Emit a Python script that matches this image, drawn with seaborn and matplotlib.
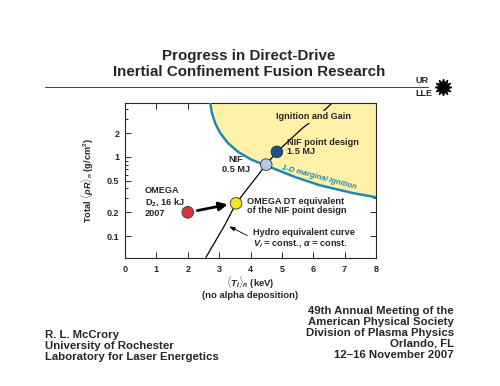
import matplotlib
matplotlib.use("Agg")
import matplotlib.pyplot as plt
import seaborn as sns
import pandas as pd
from matplotlib.ticker import FixedLocator, NullFormatter

# ---- data ----
ign_T = [2.71, 2.77, 2.87, 3.03, 3.28, 3.60, 4.04, 4.46, 5.0, 5.41, 6.2, 7.26, 8.0]
ign_rho = [4.97, 3.6, 2.69, 2.01, 1.50, 1.16, 0.92, 0.79, 0.65, 0.56, 0.44, 0.35, 0.31]
hydro_T = [2.58, 3.18, 3.54, 4.52, 4.84, 5.67, 6.2, 6.6]
hydro_rho = [0.054, 0.138, 0.26, 0.82, 1.16, 2.33, 3.4, 4.8]
pt_names = ["OMEGA D2", "OMEGA DT eq", "NIF 0.5 MJ", "NIF 1.5 MJ"]
pt_T = [2.0, 3.54, 4.50, 4.84]
pt_rho = [0.2, 0.26, 0.80, 1.16]
pt_colors = ["#D9363E", "#F6E31E", "#AECBEA", "#1E4F8E"]
xticks = [0, 1, 2, 3, 4, 5, 6, 7, 8]
yticks = [0.1, 0.2, 0.5, 1, 2]
yticklabels = ["0.1", "0.2", "0.5", "1", "2"]
yminor = [0.3, 0.4, 0.6, 0.7, 0.8, 0.9, 3, 4]

sns.set_style("ticks")
plt.rcParams["font.family"] = ["Liberation Sans", "DejaVu Sans"]
plt.rcParams["font.weight"] = "bold"
plt.rcParams["mathtext.fontset"] = "custom"
plt.rcParams["mathtext.rm"] = "Liberation Sans:bold"
plt.rcParams["mathtext.it"] = "Liberation Sans:bold:italic"
plt.rcParams["mathtext.bf"] = "Liberation Sans:bold"

fig = plt.figure(figsize=(5, 3.86), dpi=100)
ax = fig.add_axes([0.25, 0.3316, 0.502, 0.4016])

TEAL = "#1C8AB2"
YEL = "#FFF2A8"

ax.fill_between(ign_T, ign_rho, 10, color=YEL, lw=0, zorder=1)
df_ign = pd.DataFrame({"T": ign_T, "rho": ign_rho})
sns.lineplot(data=df_ign, x="T", y="rho", ax=ax, color=TEAL, lw=1.8,
             sort=False, zorder=3, estimator=None)
df_h = pd.DataFrame({"T": hydro_T, "rho": hydro_rho})
sns.lineplot(data=df_h, x="T", y="rho", ax=ax, color="black", lw=0.9,
             sort=False, zorder=2, estimator=None)
df_p = pd.DataFrame({"T": pt_T, "rho": pt_rho, "name": pt_names})
sns.scatterplot(data=df_p, x="T", y="rho", hue="name", palette=pt_colors,
                ax=ax, s=70, edgecolor="#333333", linewidth=0.6, zorder=5,
                legend=False)

ax.set_yscale("log")
ax.set_xlim(0, 8)
ax.set_ylim(0.053, 4.8)
ax.set_xticks(xticks)
ax.set_xticklabels([str(v) for v in xticks])
ax.yaxis.set_major_locator(FixedLocator(yticks))
ax.set_yticklabels(yticklabels)
ax.yaxis.set_minor_locator(FixedLocator(yminor))
ax.yaxis.set_minor_formatter(NullFormatter())
ax.tick_params(axis="both", which="both", direction="in", top=True, right=True,
               labelsize=6.5, width=0.7, pad=4)
ax.tick_params(axis="both", which="major", length=4)
ax.tick_params(axis="both", which="minor", length=2.5)
ax.tick_params(axis="x", pad=5)
for s in ax.spines.values():
    s.set_linewidth(0.8)
ax.set_xlabel("")
ax.set_ylabel(r"Total $\langle\rho R\rangle_n$ (g/cm$^2$)", fontsize=6.6,
              fontweight="bold", labelpad=8)
ax.text(4.0, -0.11, r"$\langle T_i\rangle_n$ (keV)" + "\n(no alpha deposition)",
        transform=ax.get_xaxis_transform(), ha="center", va="top",
        fontsize=6.8, fontweight="bold", linespacing=1.0)

fs = 6.6
ax.text(6.0, 3.2, "Ignition and Gain", ha="center", va="center", fontsize=fs,
        fontweight="bold", zorder=4,
        bbox=dict(facecolor=YEL, edgecolor="none", pad=1.0))
ax.text(5.15, 1.33, "NIF point design\n1.5 MJ", ha="left", va="center",
        fontsize=fs, fontweight="bold", linespacing=1.1)
ax.text(3.98, 0.80, "NIF\n0.5 MJ", ha="right", va="center", fontsize=fs,
        fontweight="bold", multialignment="center", linespacing=1.1)
ax.text(5.0, 0.695, "1-D marginal ignition", ha="left", va="baseline", fontsize=5.6,
        color=TEAL, fontstyle="italic", fontweight="bold", rotation=-15,
        rotation_mode="anchor", zorder=4)
ax.text(0.64, 0.27, "OMEGA\nD$_2$, 16 kJ\n2007", ha="left", va="center",
        fontsize=fs, fontweight="bold", linespacing=1.1)
ax.text(3.88, 0.24, "OMEGA DT equivalent\nof the NIF point design",
        ha="left", va="center", fontsize=fs, fontweight="bold", linespacing=1.1)
ax.text(4.07, 0.093, "Hydro equivalent curve\n$V_i$ = const., $\\alpha$ = const.",
        ha="left", va="center", fontsize=fs, fontweight="bold", linespacing=1.15)
ax.annotate("", xy=(3.36, 0.255), xytext=(2.22, 0.207),
            arrowprops=dict(arrowstyle="-|>,head_length=0.5,head_width=0.25",
                            lw=2.0, color="black"), zorder=4)
ax.annotate("", xy=(3.24, 0.138), xytext=(3.98, 0.098),
            arrowprops=dict(arrowstyle="-|>,head_length=0.35,head_width=0.12",
                            lw=0.6, color="black"))

# title & header
fig.text(0.498, 1 - 64 / 386, "Progress in Direct-Drive\nInertial Confinement Fusion Research",
         ha="center", va="center", fontsize=10.9, fontweight="bold", linespacing=1.1)
fig.add_artist(plt.Line2D([0.09, 0.856], [1 - 87 / 386] * 2, color="#444444", lw=0.7))
fig.text(0.830, 1 - 85 / 386, "UR", ha="left", va="bottom", fontsize=6.5, fontweight="bold")
fig.text(0.830, 1 - 89 / 386, "LLE", ha="left", va="top", fontsize=6.5, fontweight="bold")
fig.add_artist(plt.Line2D([0.886], [1 - 87 / 386], marker=(12, 1, 0), markersize=12,
                          color="black", lw=0))

# footer
ffs = 8.2
fig.text(0.09, 1 - 346 / 386, "R. L. McCrory\nUniversity of Rochester\nLaboratory for Laser Energetics",
         ha="left", va="center", fontsize=ffs, fontweight="bold", linespacing=1.1)
fig.text(0.908, 1 - 333 / 386,
         "49th Annual Meeting of the\nAmerican Physical Society\nDivision of Plasma Physics\nOrlando, FL\n12\u201316 November 2007",
         ha="right", va="center", fontsize=ffs, fontweight="bold", linespacing=1.1)

fig.savefig("out.png", dpi=100)
